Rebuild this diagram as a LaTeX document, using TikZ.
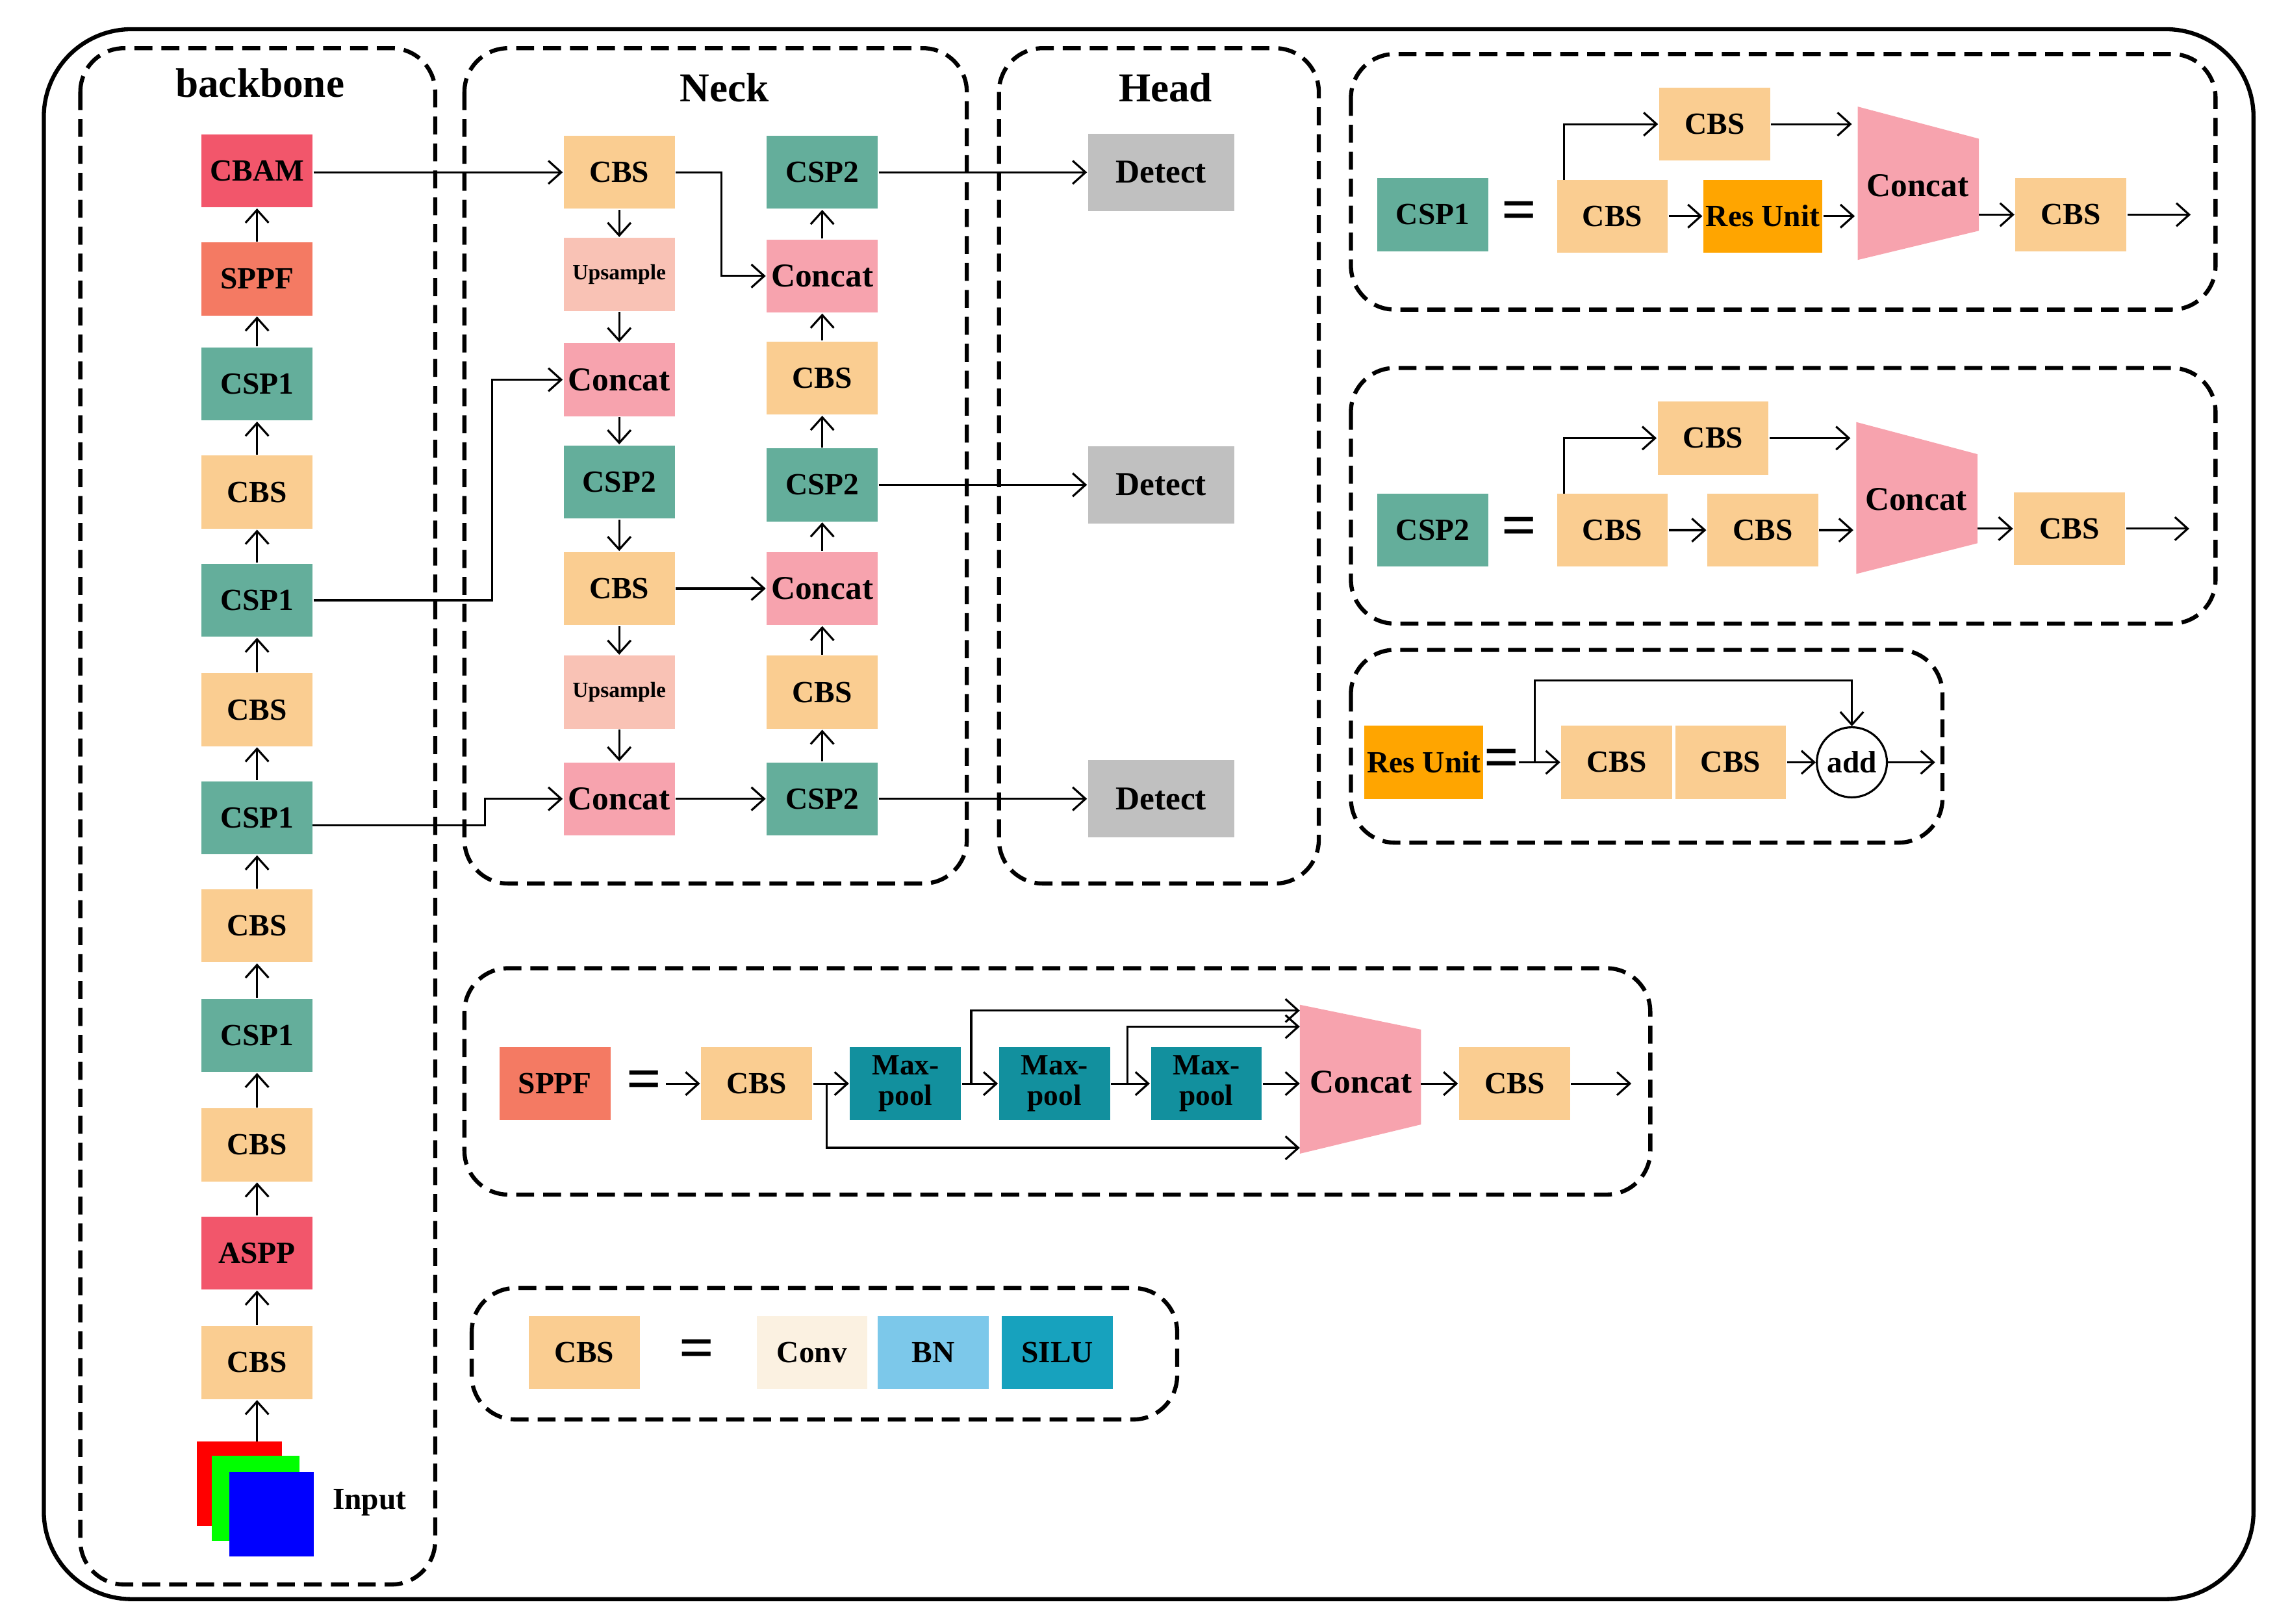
\documentclass[tikz,border=0pt]{standalone}
\usepackage{fontspec}
\setmainfont{Liberation Serif}
\usetikzlibrary{arrows.meta}
\definecolor{cbs_orange}{RGB}{250,205,145}
\definecolor{csp_green}{RGB}{100,174,155}
\definecolor{cbam_red}{RGB}{242,86,107}
\definecolor{sppf_red}{RGB}{244,122,99}
\definecolor{ups_pink}{RGB}{249,194,181}
\definecolor{cat_pink}{RGB}{247,163,174}
\definecolor{det_gray}{RGB}{192,192,192}
\definecolor{res_orange}{RGB}{255,165,0}
\definecolor{pool_teal}{RGB}{18,144,158}
\definecolor{conv_cream}{RGB}{251,241,225}
\definecolor{bn_blue}{RGB}{124,200,234}
\definecolor{silu_teal}{RGB}{23,162,190}
\begin{document}
\begin{tikzpicture}[->,thick,>={Straight Barb[length=5pt,width=9pt]},x=0.02cm,y=-0.02cm,font=\fontsize{12}{14}\selectfont\bfseries]
    \tikzstyle{blk}=[draw=none, rectangle, minimum width=1.52cm, minimum height=1cm, inner sep=1pt, text=black]
    \tikzstyle{cbs}=[style=blk,fill=cbs_orange]
    \tikzstyle{csp}=[style=blk,fill=csp_green]
    \tikzstyle{cbam}=[style=blk,fill=cbam_red]
    \tikzstyle{sppf}=[style=blk,fill=sppf_red]
    \tikzstyle{ups}=[style=blk,fill=ups_pink,font=\fontsize{8.5}{10}\selectfont\bfseries]
    \tikzstyle{cat}=[style=blk,fill=cat_pink,font=\fontsize{13}{15}\selectfont\bfseries]
    \tikzstyle{det}=[style=blk,fill=det_gray,minimum width=2cm,minimum height=1.06cm,font=\fontsize{13}{15}\selectfont\bfseries]
    \tikzstyle{res}=[style=blk,fill=res_orange]
    \tikzstyle{pool}=[style=blk,fill=pool_teal,align=center,font=\fontsize{11.5}{12}\selectfont\bfseries]
    \tikzstyle{box}=[-,draw,dash pattern=on 7pt off 3.5pt,line width=1.6pt,rounded corners=0.6cm]
    \tikzstyle{title}=[font=\fontsize{16}{18}\selectfont\bfseries]
    \tikzstyle{eq}=[font=\fontsize{24}{24}\selectfont\bfseries]
    \tikzstyle{trap}=[-,draw=none,fill=cat_pink]

    \useasboundingbox (0,0) rectangle (1568,1112);
    \draw[-,line width=1.6pt,rounded corners=1.2cm] (30,20) rectangle (1543,1095);

    % frames
    \draw[box] (55,33) rectangle (298,1085);
    \draw[box] (318,33) rectangle (662,605);
    \draw[box] (684,33) rectangle (903,605);
    \draw[box] (925,37) rectangle (1517,212);
    \draw[box] (925,252) rectangle (1517,427);
    \draw[box] (925,445) rectangle (1330,577);
    \draw[box] (318,663) rectangle (1130,818);
    \draw[box] (323,882) rectangle (806,972);
    \node[title] (tb) at (178,57) {backbone};
    \node[title] (tn) at (496,60) {Neck};
    \node[title] (th) at (798,60) {Head};

    % backbone
    \node[cbam] (b1) at (176,117) {CBAM};
    \node[sppf] (b2) at (176,191) {SPPF};
    \node[csp]  (b3) at (176,263) {CSP1};
    \node[cbs]  (b4) at (176,337) {CBS};
    \node[csp]  (b5) at (176,411) {CSP1};
    \node[cbs]  (b6) at (176,486) {CBS};
    \node[csp]  (b7) at (176,560) {CSP1};
    \node[cbs]  (b8) at (176,634) {CBS};
    \node[csp]  (b9) at (176,709) {CSP1};
    \node[cbs]  (b10) at (176,784) {CBS};
    \node[cbam] (b11) at (176,858) {ASPP};
    \node[cbs]  (b12) at (176,933) {CBS};
    \fill[red]   (135,987) rectangle (193,1045);
    \fill[green] (145,997) rectangle (205,1055);
    \fill[blue]  (157,1008) rectangle (215,1066);
    \coordinate (in) at (176,987);
    \coordinate (b7o) at (214,565);
    \node (tin) at (253,1029) {Input};
    \path (in) edge (b12) (b12) edge (b11) (b11) edge (b10) (b10) edge (b9)
     (b9) edge (b8) (b8) edge (b7) (b7) edge (b6) (b6) edge (b5)
     (b5) edge (b4) (b4) edge (b3) (b3) edge (b2) (b2) edge (b1);

    % neck
    \node[cbs] (n1) at (424,118) {CBS};
    \node[ups] (n2) at (424,188) {Upsample};
    \node[cat] (n3) at (424,260) {Concat};
    \node[csp] (n4) at (424,330) {CSP2};
    \node[cbs] (n5) at (424,403) {CBS};
    \node[ups] (n6) at (424,474) {Upsample};
    \node[cat] (n7) at (424,547) {Concat};
    \node[csp] (m1) at (563,118) {CSP2};
    \node[cat] (m2) at (563,189) {Concat};
    \node[cbs] (m3) at (563,259) {CBS};
    \node[csp] (m4) at (563,332) {CSP2};
    \node[cat] (m5) at (563,403) {Concat};
    \node[cbs] (m6) at (563,474) {CBS};
    \node[csp] (m7) at (563,547) {CSP2};
    \path (n1) edge (n2) (n2) edge (n3) (n3) edge (n4) (n4) edge (n5)
     (n5) edge (n6) (n6) edge (n7)
     (m7) edge (m6) (m6) edge (m5) (m5) edge (m4) (m4) edge (m3)
     (m3) edge (m2) (m2) edge (m1)
     (n5) edge (m5) (n7) edge (m7);
    \draw (b1.east |- n1) -- (n1.west);
    \draw (n1.east) -| (494,189) -- (m2.west);
    \draw (b5.east) -- (337,411) |- (n3.west);
    \draw (b7o) -- (332,565) |- (n7.west);

    % head
    \node[det] (d1) at (795,118) {Detect};
    \node[det] (d2) at (795,332) {Detect};
    \node[det] (d3) at (795,547) {Detect};
    \path (m1) edge (d1) (m4) edge (d2) (m7) edge (d3);

    % CSP1 block
    \node[csp] (c1) at (981,147) {CSP1};
    \node[eq]  (c1eq) at (1040,148) {=};
    \node[cbs] (c1a) at (1104,148) {CBS};
    \node[cbs] (c1b) at (1174,85) {CBS};
    \node[res] (c1c) at (1207,148) {Res Unit};
    \fill[trap] (1272,73) -- (1355,95) -- (1355,158) -- (1272,178) -- cycle;
    \node (c1d) at (1313,127) {\fontsize{13}{15}\selectfont Concat};
    \coordinate (c1in) at (1270,148);
    \node[cbs] (c1e) at (1418,147) {CBS};
    \coordinate (c1o) at (1500,147);
    \draw (1071,123) |- (c1b.west);
    \draw (c1b.east) -- (1268,85);
    \path (c1a) edge (c1c) (c1c) edge (c1in) (1355,147) edge (c1e) (c1e) edge (c1o);

    % CSP2 block
    \node[csp] (c2) at (981,363) {CSP2};
    \node[eq]  (c2eq) at (1040,364) {=};
    \node[cbs] (c2a) at (1104,363) {CBS};
    \node[cbs] (c2b) at (1173,300) {CBS};
    \node[cbs] (c2c) at (1207,363) {CBS};
    \fill[trap] (1271,289) -- (1354,311) -- (1354,372) -- (1271,393) -- cycle;
    \node (c2d) at (1312,342) {\fontsize{13}{15}\selectfont Concat};
    \coordinate (c2in) at (1269,363);
    \node[cbs] (c2e) at (1417,362) {CBS};
    \coordinate (c2o) at (1499,362);
    \draw (1071,338) |- (c2b.west);
    \draw (c2b.east) -- (1267,300);
    \path (c2a) edge (c2c) (c2c) edge (c2in) (1354,362) edge (c2e) (c2e) edge (c2o);

    % Res unit block
    \node[res] (r0) at (975,522) {Res Unit};
    \node[eq]  (r0eq) at (1028,523) {=};
    \node[cbs] (r1) at (1107,522) {CBS};
    \node[cbs] (r2) at (1185,522) {CBS};
    \node[draw,circle,minimum size=0.96cm,inner sep=0pt] (radd) at (1268,522) {add};
    \coordinate (ro) at (1325,522);
    \path (1040,522) edge (r1) (r2) edge (radd) (radd) edge (ro);
    \draw (1051,522) |- (1268,466) -- (radd.north);

    % SPPF block
    \node[sppf] (s0) at (380,742) {SPPF};
    \node[eq]   (s0eq) at (441,743) {=};
    \node[cbs]  (s1) at (518,742) {CBS};
    \node[pool] (s2) at (620,742) {Max-\\pool};
    \node[pool] (s3) at (722,742) {Max-\\pool};
    \node[pool] (s4) at (826,742) {Max-\\pool};
    \fill[trap] (890,688) -- (973,705) -- (973,770) -- (890,790) -- cycle;
    \node (s5) at (932,741) {\fontsize{13}{15}\selectfont Concat};
    \coordinate (s5in) at (890,742);
    \node[cbs]  (s6) at (1037,742) {CBS};
    \coordinate (so) at (1117,742);
    \path (456,742) edge (s1) (s1) edge (s2) (s2) edge (s3) (s3) edge (s4)
     (s4) edge (s5in) (973,742) edge (s6) (s6) edge (so);
    \draw (665,742) |- (890,692);
    \draw (772,742) |- (890,703);
    \draw (566,742) |- (890,786);

    % CBS block
    \node[cbs] (l0) at (400,926) {CBS};
    \node[eq]  (l0eq) at (477,927) {=};
    \node[blk,fill=conv_cream] (l1) at (556,926) {Conv};
    \node[blk,fill=bn_blue]    (l2) at (639,926) {BN};
    \node[blk,fill=silu_teal]  (l3) at (724,926) {SILU};
  \end{tikzpicture}
\end{document}
